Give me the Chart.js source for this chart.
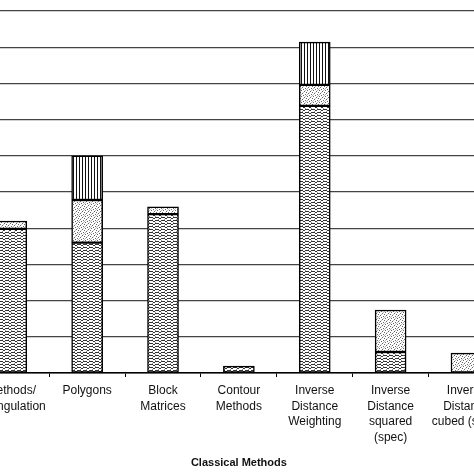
<!DOCTYPE html>
<html lang="en">
  <head>
    <meta charset="utf-8" />
    <title>Classical Methods</title>
    <style>
      body { margin: 0; background: #fff; overflow: hidden; }
      .chartBox { position: absolute; left: -29px; top: 0; width: 536px; height: 474px; }
    </style>
  </head>
  <body>
    <div class="chartBox"><canvas id="myChart"></canvas></div>
    <script src="https://cdn.jsdelivr.net/npm/chart.js"></script>
    <script>
      const labels = [
        ["Methods/", "Triangulation"],
        ["Polygons"],
        ["Block", "Matrices"],
        ["Contour", "Methods"],
        ["Inverse", "Distance", "Weighting"],
        ["Inverse", "Distance", "squared", "(spec)"],
        ["Inverse", "Distance", "cubed (spec)"],
      ];
      const lowerValues = [3.98, 3.6, 4.39, 0.19, 7.38, 0.58, 0];
      const middleValues = [0.22, 1.18, 0.2, 0, 0.58, 1.16, 0.55];
      const upperValues = [0, 1.22, 0, 0, 1.18, 0, 0];

      function makePattern(kind) {
        const c = document.createElement("canvas");
        c.width = 6; c.height = 6;
        const g = c.getContext("2d");
        g.fillStyle = "#fff";
        g.fillRect(0, 0, 6, 6);
        g.fillStyle = "#333";
        if (kind === "wave") {
          g.fillRect(0, 1, 2, 1); g.fillRect(2, 2, 2, 1); g.fillRect(4, 1, 2, 1);
          g.fillRect(0, 4, 2, 1); g.fillRect(2, 5, 2, 1); g.fillRect(4, 4, 2, 1);
          g.fillStyle = "#999";
          g.fillRect(1, 3, 1, 1); g.fillRect(4, 0, 1, 1);
        } else if (kind === "dots") {
          g.fillStyle = "#666";
          g.fillRect(0, 0, 1, 1); g.fillRect(3, 1, 1, 1); g.fillRect(1, 3, 1, 1);
          g.fillRect(4, 4, 1, 1); g.fillRect(5, 2, 1, 1); g.fillRect(2, 5, 1, 1);
          g.fillStyle = "#bbb";
          g.fillRect(2, 2, 1, 1); g.fillRect(5, 5, 1, 1); g.fillRect(0, 4, 1, 1); g.fillRect(4, 0, 1, 1);
        } else {
          c.height = 2;
          g.fillStyle = "#fff"; g.fillRect(0, 0, 6, 2);
          g.fillStyle = "#111"; g.fillRect(0, 0, 1, 2); g.fillRect(3, 0, 1, 2);
        }
        return g.createPattern(c, "repeat");
      }

      const data = {
        labels: labels,
        datasets: [
          { data: lowerValues, backgroundColor: makePattern("wave") },
          { data: middleValues, backgroundColor: makePattern("dots") },
          { data: upperValues, backgroundColor: makePattern("stripes") },
        ].map((d) => ({
          ...d,
          borderColor: "#000",
          borderWidth: 1.5,
          borderSkipped: false,
          barThickness: 31,
        })),
      };

      Chart.defaults.font.family = "'Liberation Sans', Arial, sans-serif";
      Chart.defaults.color = "#111";

      const config = {
        type: "bar",
        data,
        options: {
          responsive: true,
          maintainAspectRatio: false,
          animation: false,
          layout: { padding: { top: 11, left: 0, right: 0, bottom: 0 } },
          plugins: {
            legend: { display: false },
            tooltip: { enabled: false },
          },
          scales: {
            x: {
              stacked: true,
              afterFit: (scale) => { scale.height = 101; },
              grid: { drawOnChartArea: false, tickLength: 4, color: "#000" },
              border: { color: "#000", width: 1.5 },
              ticks: { font: { size: 12, lineHeight: 1.3 }, padding: 6, maxRotation: 0, autoSkip: false },
              title: {
                display: true,
                text: "Classical Methods",
                font: { size: 11, weight: "bold" },
                padding: { top: 2 },
              },
            },
            y: {
              stacked: true,
              min: 0,
              max: 10,
              afterFit: (scale) => { scale.width = 0; },
              ticks: { display: false, stepSize: 1 },
              grid: { color: "#444", lineWidth: 1.3, drawTicks: false },
              border: { display: false },
            },
          },
        },
      };
      new Chart(document.getElementById("myChart"), config);
    </script>
  </body>
</html>
